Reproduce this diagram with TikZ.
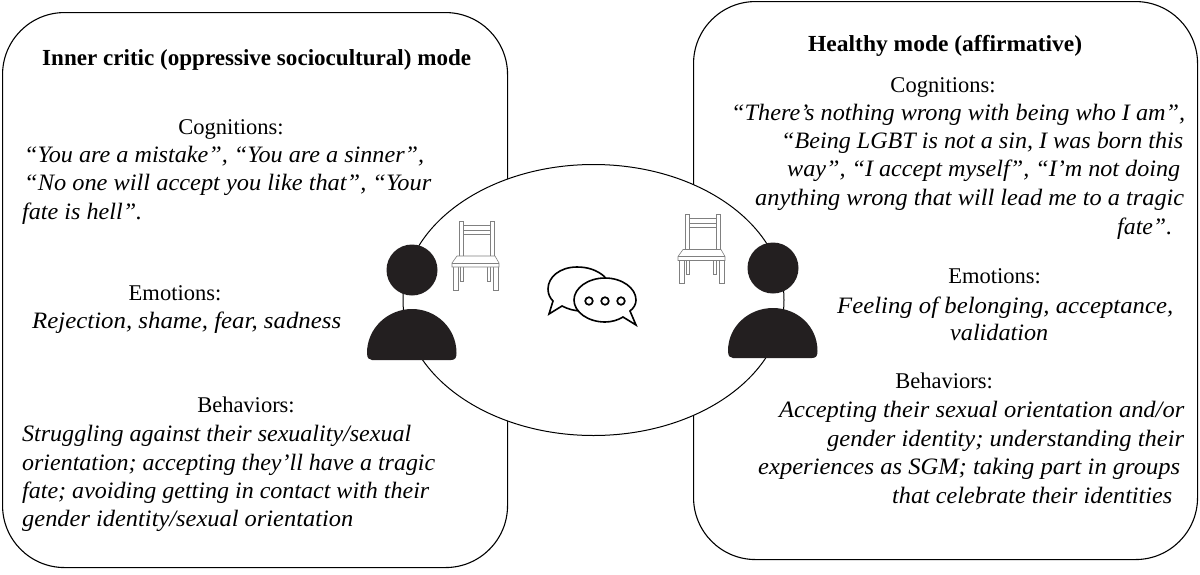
\documentclass[tikz,border=0pt]{standalone}
\usepackage{graphicx}
\usepackage{fontspec}
\setmainfont{Liberation Serif}
\definecolor{ink}{HTML}{231F20}
\newcommand{\wl}[2]{\resizebox{#1pt}{\height}{#2}}
\tikzset{
  x=1pt,y=-1pt,
  modebox/.style={draw=black,line width=1.1pt,rounded corners=62pt,fill=white},
  circlezone/.style={draw=black,line width=1pt,fill=white},
  lineit/.style={anchor=base west,inner sep=0pt,font=\fontsize{23.5}{28}\selectfont\itshape},
  head/.style={anchor=base,inner sep=0pt,font=\fontsize{22.5}{28}\selectfont},
  titlet/.style={anchor=base west,inner sep=0pt,font=\fontsize{23}{28}\selectfont\bfseries},
  chairline/.style={draw=black!50,line width=.6pt,fill=white},
  person/.style={fill=ink,draw=none},
  bubble/.style={draw=black,line width=1.6pt,fill=white,line join=miter},
  chair/.pic={
    % back legs
    \draw[chairline] (-16,0) rectangle (-13,24);
    \draw[chairline] (11,0) rectangle (14,24);
    % front legs
    \draw[chairline] (-23,6) rectangle (-18,33);
    \draw[chairline] (17,6) rectangle (22,33);
    % back
    \draw[chairline] (-13,-32) rectangle (14,-27);
    \draw[chairline] (-13,-27) rectangle (14,-23);
    \draw[chairline] (-17,-36) rectangle (-13,0);
    \draw[chairline] (14,-36) rectangle (18,0);
    % seat
    \draw[chairline] (-19,-1) -- (19,-1) -- (23,6) -- (23,10) -- (-24,10) -- (-24,6) -- cycle;
    \draw[chairline] (-24,6) -- (23,6);
  }
}
\begin{document}
\begin{tikzpicture}
\useasboundingbox (0,0) rectangle (1200,574);
\node[modebox,minimum width=505pt,minimum height=555pt,anchor=north west,inner sep=0pt] (leftbox) at (2,12) {};
\node[modebox,minimum width=504pt,minimum height=558pt,anchor=north west,inner sep=0pt] (rightbox) at (693,1) {};
\draw[circlezone] (593.5,300) ellipse [x radius=190.5,y radius=135.5];

% left person
\fill[person] (412,270) circle (25.5);
\fill[person] (367,353) .. controls (367,328) and (388,309) .. (412,309) .. controls (436,309) and (456.5,328) .. (456.5,353) .. controls (456.5,358) and (455,360) .. (451,360) -- (372,360) .. controls (369,360) and (367,358) .. (367,353) -- cycle;
% right person
\fill[person] (773,268) circle (25.5);
\fill[person] (728,351) .. controls (728,326) and (749,308) .. (773,308) .. controls (797,308) and (817.5,326) .. (817.5,351) .. controls (817.5,356) and (816,358) .. (812,358) -- (733,358) .. controls (730,358) and (728,356) .. (728,351) -- cycle;

\pic at (476,257) {chair};
\pic at (702,250.5) {chair};

% bubbles
\draw[bubble] (605,277) .. controls (597,270) and (588,267) .. (577,267) .. controls (560,267) and (548,277) .. (548,289) .. controls (548,294) and (550,298) .. (553,301) -- (549,314) -- (562,306) .. controls (568,309) and (574,311) .. (582,311);
\draw[bubble] (605,278) .. controls (622,278) and (636,288) .. (636,300) .. controls (636,304) and (634,308) .. (630,311) -- (636,325) -- (623,317) .. controls (618,320) and (612,322) .. (605,322) .. controls (588,322) and (574,312) .. (574,300) .. controls (574,288) and (588,278) .. (605,278) -- cycle;
\draw[line width=1.7pt] (589,301) circle (3.8) (605,301) circle (3.8) (621,301) circle (3.8);

% left texts
\node[titlet] (t1) at (42,65) {\wl{429}{Inner critic (oppressive sociocultural) mode}};
\node[head] (c1) at (231,134) {Cognitions:};
\node[lineit] (c1a) at (24,162) {\wl{400}{“You are a mistake”, “You are a sinner”,}};
\node[lineit] (c1b) at (24,190) {\wl{407}{“No one will accept you like that”, “Your}};
\node[lineit] (c1c) at (22,219) {\wl{120}{fate is hell”.}};
\node[head] (e1) at (175,300) {Emotions:};
\node[lineit] (e1a) at (32,328) {\wl{309}{Rejection, shame, fear, sadness}};
\node[head] (b1) at (246,412) {Behaviors:};
\node[lineit] (b1a) at (22,441) {\wl{389}{Struggling against their sexuality/sexual}};
\node[lineit] (b1b) at (22,470) {\wl{413}{orientation; accepting they’ll have a tragic}};
\node[lineit] (b1c) at (22,498) {\wl{407}{fate; avoiding getting in contact with their}};
\node[lineit] (b1d) at (22,526) {\wl{331}{gender identity/sexual orientation}};

% right texts
\node[titlet] (t2) at (808,51) {\wl{274}{Healthy mode (affirmative)}};
\node[head] (c2) at (943,92) {Cognitions:};
\node[lineit] (c2a) at (731,120) {\wl{454}{“There’s nothing wrong with being who I am”,}};
\node[lineit] (c2b) at (781,148) {\wl{402}{“Being LGBT is not a sin, I was born this}};
\node[lineit] (c2c) at (787,176) {\wl{393}{way”, “I accept myself”, “I’m not doing}};
\node[lineit] (c2d) at (755,205) {\wl{429}{anything wrong that will lead me to a tragic}};
\node[lineit] (c2e) at (1117,234) {\wl{55}{fate”.}};
\node[head] (e2) at (994.5,283) {Emotions:};
\node[lineit] (e2a) at (837,313) {\wl{336}{Feeling of belonging, acceptance,}};
\node[lineit] (e2b) at (950,340) {\wl{98}{validation}};
\node[head] (b2) at (944,388) {Behaviors:};
\node[lineit] (b2a) at (779,417) {\wl{405}{Accepting their sexual orientation and/or}};
\node[lineit] (b2b) at (827,446) {\wl{357}{gender identity; understanding their}};
\node[lineit] (b2c) at (758,474) {\wl{422}{experiences as SGM; taking part in groups}};
\node[lineit] (b2d) at (892,503) {\wl{280}{that celebrate their identities}};
\end{tikzpicture}
\end{document}
